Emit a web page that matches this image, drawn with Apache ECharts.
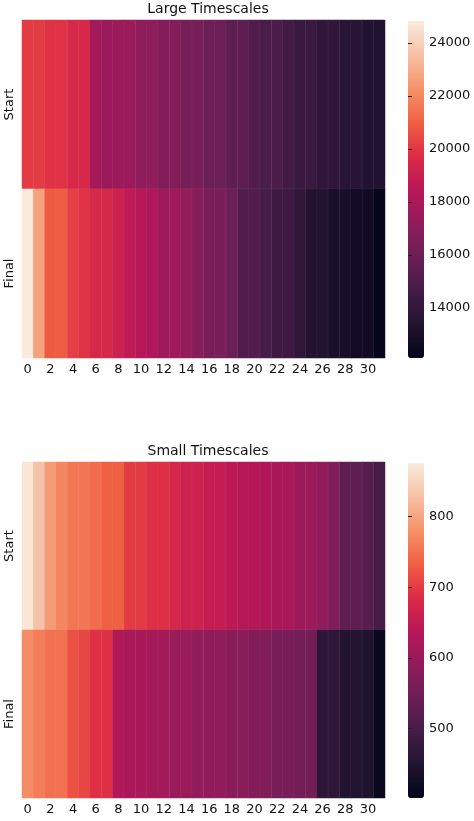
<!DOCTYPE html>
<html><head><meta charset="utf-8">
<script src="https://cdn.jsdelivr.net/npm/echarts@6/dist/echarts.min.js"></script>
<style>html,body{margin:0;padding:0;background:#fff}#c{width:474px;height:821px}</style>
</head><body><div id="c"></div>
<script>
const cols = Array.from({length:32},(_,i)=>String(i));
const rows = ['Start','Final'];
const largeStart = [20100,20100,19900,19900,19500,19500,17800,17500,17500,17500,17100,17100,16700,16700,16300,16300,16000,16000,15500,15500,15100,14800,14800,14500,14200,14200,13900,13900,13600,13600,13300,13300];
const largeFinal = [24800,22700,20900,20900,20200,19900,19500,19500,19100,18700,18400,18100,17600,17600,17300,16800,16400,16400,16000,15100,15100,14700,14400,14400,13900,13400,13400,13000,13000,12700,12700,12200];
const smallStart = [870,830,790,770,755,755,745,735,735,700,700,690,690,675,665,665,655,655,645,635,635,628,620,620,605,605,590,570,530,530,520,495];
const smallFinal = [775,760,750,750,720,710,690,690,630,620,620,612,612,600,600,590,590,590,580,580,570,570,560,560,555,555,465,465,450,450,445,412];
const largeTicks = [14000,16000,18000,20000,22000,24000];
const smallTicks = [500,600,700,800];
const largeRange = [12110,24830];
const smallRange = [402,876];
const rocket = ['#03051a','#221331','#451c47','#6a1f56','#921c5b','#b91657','#dd2c45','#f06043','#f5936a','#f6c1a5','#faebdd'];

function cells(a,b){const d=[];a.forEach((v,i)=>d.push([i,0,v]));b.forEach((v,i)=>d.push([i,1,v]));return d;}
const xCat = (g)=>({type:'category',gridIndex:g,data:cols,axisLine:{show:false},axisTick:{length:4,lineStyle:{color:'#222'},alignWithLabel:true,interval:1},
  axisLabel:{interval:1,color:'#111',fontSize:13,margin:5}});
const yCat = (g)=>({type:'category',gridIndex:g,data:rows,inverse:true,axisLine:{show:false},axisTick:{length:4,lineStyle:{color:'#222'},alignWithLabel:true},
  axisLabel:{rotate:90,color:'#111',fontSize:13,margin:6}});
const cbY = (g,r,t)=>({type:'value',gridIndex:g,position:'right',min:r[0],max:r[1],splitLine:{show:false},axisLine:{show:false},z:10,
  axisTick:{show:true,length:4,lineStyle:{color:'#222'},customValues:t},axisLabel:{color:'#111',fontSize:13,margin:5,customValues:t,formatter:v=>String(v)}});
const cbX = (g)=>({type:'value',gridIndex:g,show:false});
const chart = echarts.init(document.getElementById('c'));
chart.setOption({
  animation:false,
  title:[{text:'Large Timescales',left:203,top:-3,textAlign:'center',textStyle:{fontSize:14,fontWeight:'normal',color:'#111',fontFamily:'DejaVu Sans'}},
         {text:'Small Timescales',left:203,top:439,textAlign:'center',textStyle:{fontSize:14,fontWeight:'normal',color:'#111',fontFamily:'DejaVu Sans'}}],
  textStyle:{fontFamily:'DejaVu Sans'},
  grid:[{left:22,top:20,width:363,height:338},{left:22,top:462,width:363,height:336},
        {left:408,top:21,width:16,height:337},{left:408,top:463,width:16,height:335}],
  xAxis:[xCat(0),xCat(1),cbX(2),cbX(3)],
  yAxis:[yCat(0),yCat(1),cbY(2,largeRange,largeTicks),cbY(3,smallRange,smallTicks)],
  visualMap:[
    {type:'continuous',seriesIndex:0,min:largeRange[0],max:largeRange[1],inRange:{color:rocket},left:408,top:21,padding:0,itemWidth:16,itemHeight:337,calculable:false,showLabel:false,textStyle:{color:'transparent'}},
    {type:'continuous',seriesIndex:1,min:smallRange[0],max:smallRange[1],inRange:{color:rocket},left:408,top:463,padding:0,itemWidth:16,itemHeight:335,calculable:false,showLabel:false,textStyle:{color:'transparent'}}
  ],
  series:[
    {type:'heatmap',xAxisIndex:0,yAxisIndex:0,data:cells(largeStart,largeFinal),itemStyle:{borderWidth:0.4,borderColor:'rgba(255,255,255,0.12)'}},
    {type:'heatmap',xAxisIndex:1,yAxisIndex:1,data:cells(smallStart,smallFinal),itemStyle:{borderWidth:0.4,borderColor:'rgba(255,255,255,0.12)'}}
  ]
});
</script></body></html>
